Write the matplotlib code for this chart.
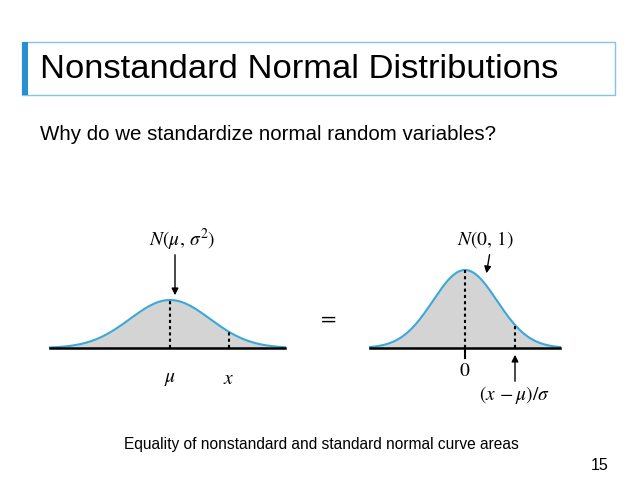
import numpy as np
import matplotlib.pyplot as plt
from matplotlib.patches import Rectangle

plt.rcParams['mathtext.fontset'] = 'stix'
title = "Nonstandard Normal Distributions"
subtitle = "Why do we standardize normal random variables?"
caption = "Equality of nonstandard and standard normal curve areas"
page = "15"
# curve params (pixel space): center, sigma, peak height, x-marker, span
left = dict(c=170, s=40, h=48, xm=229, x0=50, x1=285)
right = dict(c=465, s=32, h=78, xm=515, x0=370, x1=560)
base = 348

fig = plt.figure(figsize=(6.38, 4.93), dpi=100)
ax = fig.add_axes([0, 0, 1, 1])
ax.set_xlim(0, 638); ax.set_ylim(493, 0); ax.axis('off')

ax.add_patch(Rectangle((22, 42), 593, 53, fill=False, ec='#7fc4ea', lw=1))
ax.add_patch(Rectangle((22, 42), 6, 53, color='#2a8fd0', lw=0))
ax.text(40, 70, title, fontsize=24.8, va='center', ha='left', family='Liberation Sans')
ax.text(40, 135, subtitle, fontsize=14.8, va='center', ha='left', family='Liberation Sans')
ax.text(321, 445, caption, fontsize=11.2, va='center', ha='center', family='Liberation Sans')
ax.text(608, 465, page, fontsize=11.5, va='center', ha='right', family='Liberation Sans')

def curve(p):
    xs = np.linspace(p['x0'], p['x1'], 400)
    ys = base - p['h'] * np.exp(-0.5 * ((xs - p['c']) / p['s']) ** 2)
    ax.fill_between(xs, ys, base, color='#d4d4d4', lw=0)
    ax.plot(xs, ys, color='#3aa8d8', lw=1.5)
    ax.plot([p['x0'], p['x1']], [base, base], color='black', lw=1.8)
    for xv in (p['c'], p['xm']):
        yv = base - p['h'] * np.exp(-0.5 * ((xv - p['c']) / p['s']) ** 2)
        ax.plot([xv, xv], [base, yv], color='black', lw=1.5, ls=(0, (1.5, 1.5)))

curve(left); curve(right)
fs = 14
ax.text(left['c'], 378, r'$\mu$', fontsize=fs, ha='center', va='center')
ax.text(left['xm'], 378, r'$x$', fontsize=fs, ha='center', va='center')
ax.text(182, 240, r'$N(\mu,\,\sigma^2)$', fontsize=fs, ha='center', va='center')
ax.annotate('', xy=(175, 298), xytext=(175, 252), arrowprops=dict(arrowstyle='-|>', color='black', lw=1))
ax.text(485, 240, r'$N(0,\,1)$', fontsize=fs, ha='center', va='center')
ax.annotate('', xy=(486, 276), xytext=(490, 252), arrowprops=dict(arrowstyle='-|>', color='black', lw=1))
ax.plot([465, 465], [base, 358], color='black', lw=1.5)
ax.text(465, 370, r'$0$', fontsize=fs, ha='center', va='center')
ax.annotate('', xy=(515, 352), xytext=(515, 384), arrowprops=dict(arrowstyle='-|>', color='black', lw=1))
ax.text(515, 395, r'$(x\,-\mu)/\sigma$', fontsize=fs, ha='center', va='center')
ax.text(327, 318, r'$=$', fontsize=16, ha='center', va='center')
fig.savefig('out.png', dpi=100)
